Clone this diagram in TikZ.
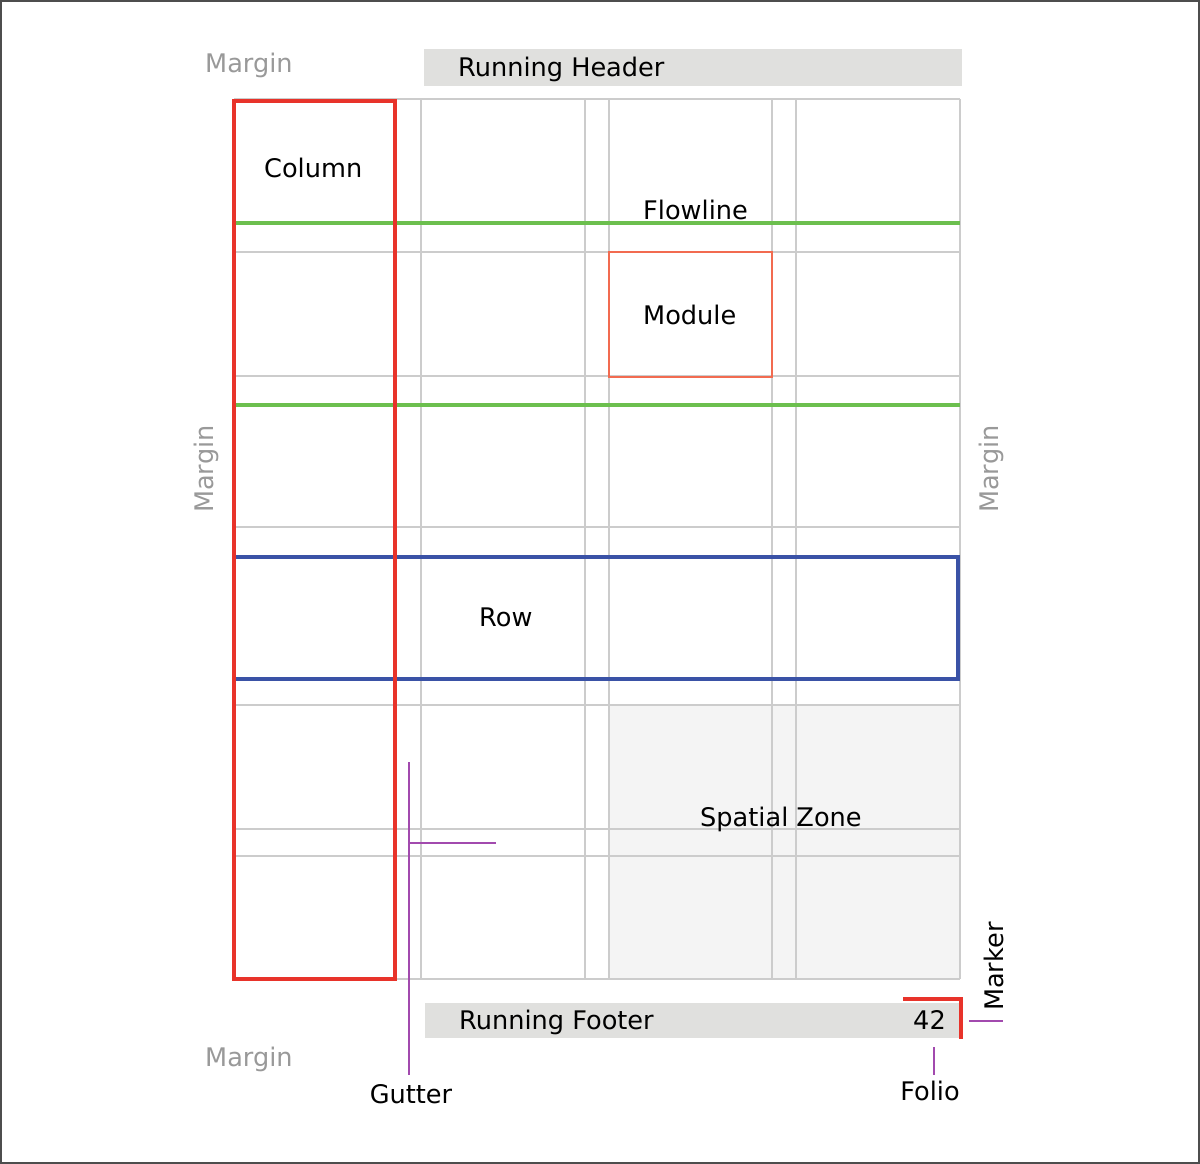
\documentclass[tikz,border=0pt]{standalone}
\usepackage{fontspec}
\setmainfont{DejaVu Sans}
\definecolor{gridgray}{HTML}{CCCCCC}
\definecolor{colred}{HTML}{E8332A}
\definecolor{modred}{HTML}{F26B50}
\definecolor{flowgreen}{HTML}{6CBF4E}
\definecolor{rowblue}{HTML}{3A52A6}
\definecolor{leadpurple}{HTML}{A24AAE}
\definecolor{barfill}{HTML}{E0E0DE}
\definecolor{zonefill}{HTML}{F4F4F4}
\definecolor{margray}{HTML}{999999}
\definecolor{framegray}{HTML}{4D4D4D}
\begin{document}
\begin{tikzpicture}[x=1pt,y=-1pt,
  lbl/.style={inner sep=0pt,font=\fontsize{25.6}{30}\selectfont,text=black},
  marg/.style={lbl,text=margray},
  gridline/.style={draw=gridgray,line width=1.5pt},
  leader/.style={draw=leadpurple,line width=1.5pt},
  bar/.style={fill=barfill,draw=none}]
\useasboundingbox (0,0) rectangle (1200,1164);
\fill[white] (0,0) rectangle (1200,1164);
\draw[framegray,line width=2.5pt] (1,1) rectangle (1199,1163);
% spatial zone fill
\fill[zonefill] (609,705) rectangle (960,979);
% grid
\foreach \x in {234,396,421,585,609,772,796,960}
  \draw[gridline] (\x,99) -- (\x,979);
\foreach \y in {99,222,252,376,406,527,557,679,705,829,856,979}
  \draw[gridline] (234,\y) -- (960,\y);
% header and footer bars
\fill[bar] (424,49) rectangle (962,86);
\fill[bar] (425,1003) rectangle (960,1038);
% flowlines
\draw[flowgreen,line width=3.5pt] (234,223) -- (960,223);
\draw[flowgreen,line width=3.5pt] (234,405) -- (960,405);
% module
\draw[modred,line width=2.2pt] (609,252) rectangle (772,377);
% row
\draw[rowblue,line width=3.5pt] (234,557) rectangle (958,679);
% column
\draw[colred,line width=3.5pt] (234,101) rectangle (395,979);
% marker
\draw[colred,line width=3.5pt] (903,999) -- (961,999) -- (961,1039);
% labels
\node[marg,anchor=base west] (mtop) at (205,73) {Margin};
\node[marg,anchor=base west] (mbot) at (205,1066) {Margin};
\node[marg,anchor=base west,rotate=90] (mleft) at (213,513) {Margin};
\node[marg,anchor=base west,rotate=90] (mright) at (998,513) {Margin};
\node[lbl,anchor=base west] (header) at (458,77) {Running Header};
\node[lbl,anchor=base west] (column) at (264,177) {Column};
\node[lbl,anchor=base west] (flow) at (643,219) {Flowline};
\node[lbl,anchor=base west] (module) at (643,324) {Module};
\node[lbl,anchor=base west] (row) at (479,626) {Row};
\node[lbl,anchor=base west] (zone) at (700,826) {Spatial Zone};
\node[lbl,anchor=base west] (footer) at (459,1029) {Running Footer};
\node[lbl,anchor=base east] (folionum) at (946,1029) {42};
\node[lbl,anchor=base] (gutter) at (411,1103) {Gutter};
\node[lbl,anchor=base] (folio) at (930,1100) {Folio};
\node[lbl,anchor=base west,rotate=90] (marker) at (1003,1011) {Marker};
% leader lines
\coordinate (gtop) at (409,762);
\coordinate (gbot) at (409,1075);
\coordinate (gmid) at (409,843);
\coordinate (gend) at (496,843);
\coordinate (ftop) at (934,1047);
\coordinate (fbot) at (934,1075);
\coordinate (mka) at (969,1021);
\coordinate (mkb) at (1003,1021);
\draw[leader] (gtop) -- (gbot);
\draw[leader] (gmid) -- (gend);
\draw[leader] (ftop) -- (fbot);
\draw[leader] (mka) -- (mkb);
\end{tikzpicture}
\end{document}
